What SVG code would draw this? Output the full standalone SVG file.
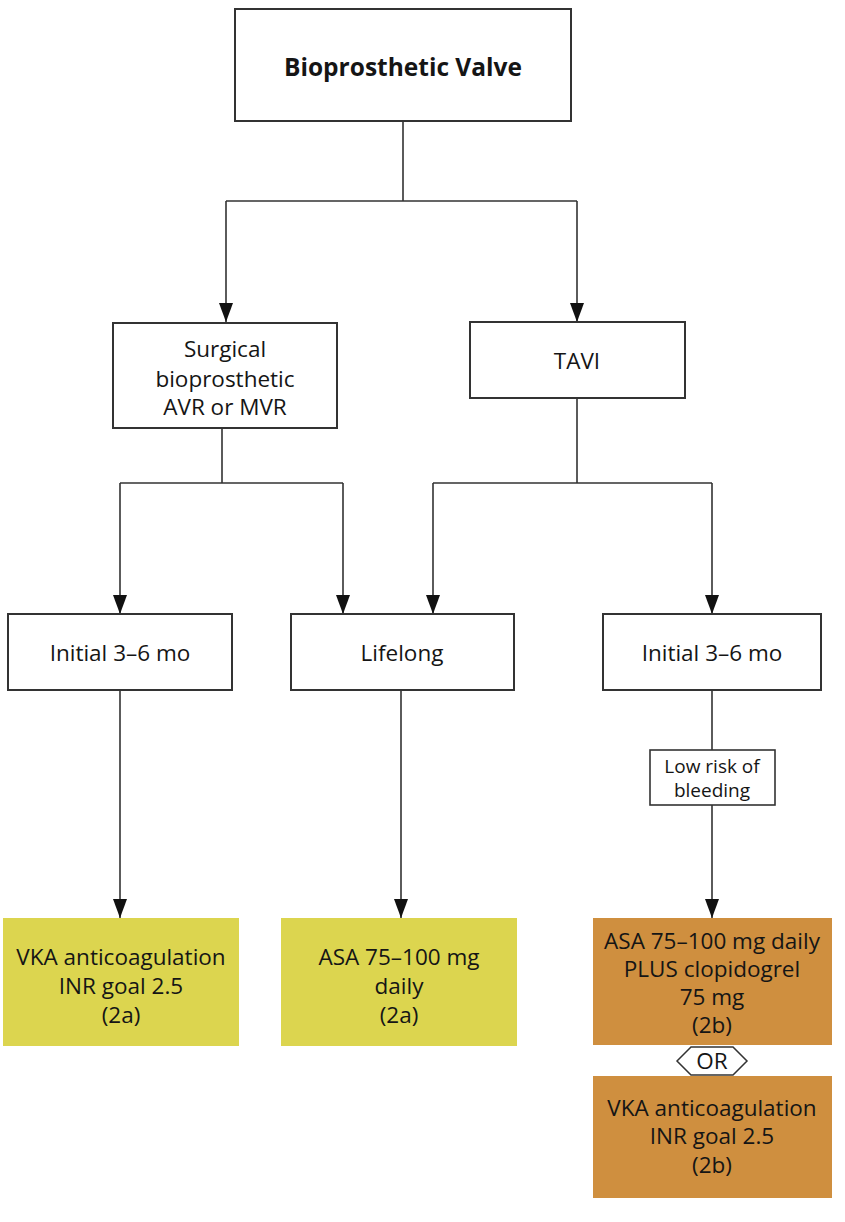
<svg xmlns="http://www.w3.org/2000/svg" width="845" height="1222" viewBox="0 0 845 1222">
<style>
.box{fill:#fff;stroke:#333;stroke-width:2}
.yel{fill:#dcd54f}
.org{fill:#cf8f3f}
.t{font-family:"Open Sans",Lato,sans-serif;font-size:22.5px;fill:#151515;text-anchor:middle}
.s{font-size:19px}
.b{font-weight:bold;font-size:24.5px}
.c{fill:none;stroke:#333;stroke-width:1.6}
</style>
<defs>
<marker id="a" markerWidth="19" markerHeight="14" refX="19" refY="7" orient="auto" markerUnits="userSpaceOnUse" viewBox="0 0 19 14">
<path d="M0,0 L19,7 L0,14 Z" fill="#111"/>
</marker>
</defs>
<g id="connectors">
<path class="c" d="M403,121 V201 M226,201 H577"/>
<path class="c" d="M226,201 V322" marker-end="url(#a)"/>
<path class="c" d="M577,201 V322" marker-end="url(#a)"/>
<path class="c" d="M222,428 V483 M120,483 H343"/>
<path class="c" d="M120,483 V614" marker-end="url(#a)"/>
<path class="c" d="M343,483 V614" marker-end="url(#a)"/>
<path class="c" d="M577,398 V483 M433,483 H712"/>
<path class="c" d="M433,483 V614" marker-end="url(#a)"/>
<path class="c" d="M712,483 V614" marker-end="url(#a)"/>
<path class="c" d="M120,690 V918" marker-end="url(#a)"/>
<path class="c" d="M401,690 V918" marker-end="url(#a)"/>
<path class="c" d="M712,690 V750"/>
<path class="c" d="M712,805 V918" marker-end="url(#a)"/>
</g>
<g id="n-root">
<rect class="box" x="235" y="9" width="336" height="112"/>
<text class="t b" x="403" y="76">Bioprosthetic Valve</text>
</g>
<g id="n-surgical">
<rect class="box" x="113" y="323" width="224" height="105"/>
<text class="t" x="225" y="357">Surgical</text>
<text class="t" x="225" y="387">bioprosthetic</text>
<text class="t" x="225" y="415">AVR or MVR</text>
</g>
<g id="n-tavi">
<rect class="box" x="470" y="322" width="215" height="76"/>
<text class="t" x="577" y="369">TAVI</text>
</g>
<g id="n-init1">
<rect class="box" x="8" y="614" width="224" height="76"/>
<text class="t" x="120" y="661">Initial 3–6 mo</text>
</g>
<g id="n-life">
<rect class="box" x="291" y="614" width="223" height="76"/>
<text class="t" x="402" y="661">Lifelong</text>
</g>
<g id="n-init2">
<rect class="box" x="603" y="614" width="218" height="76"/>
<text class="t" x="712" y="661">Initial 3–6 mo</text>
</g>
<g id="n-lowrisk">
<rect class="box" x="650" y="750" width="125" height="55" style="stroke-width:1.6"/>
<text class="t s" x="712" y="773">Low risk of</text>
<text class="t s" x="712" y="797">bleeding</text>
</g>
<g id="n-vka1">
<rect class="yel" x="3" y="918" width="236" height="128"/>
<text class="t" x="121" y="965">VKA anticoagulation</text>
<text class="t" x="121" y="994">INR goal 2.5</text>
<text class="t" x="121" y="1023">(2a)</text>
</g>
<g id="n-asa1">
<rect class="yel" x="281" y="918" width="236" height="128"/>
<text class="t" x="399" y="965">ASA 75–100 mg</text>
<text class="t" x="399" y="994">daily</text>
<text class="t" x="399" y="1023">(2a)</text>
</g>
<g id="n-asa2">
<rect class="org" x="593" y="918" width="239" height="127"/>
<text class="t" x="712" y="949">ASA 75–100 mg daily</text>
<text class="t" x="712" y="977">PLUS clopidogrel</text>
<text class="t" x="712" y="1005">75 mg</text>
<text class="t" x="712" y="1033">(2b)</text>
</g>
<g id="n-or">
<polygon points="677,1061 691,1047 733,1047 747,1061 733,1075 691,1075" fill="#fff" stroke="#333" stroke-width="1.5"/>
<text class="t" x="712" y="1069">OR</text>
</g>
<g id="n-vka2">
<rect class="org" x="593" y="1076" width="239" height="122"/>
<text class="t" x="712" y="1116">VKA anticoagulation</text>
<text class="t" x="712" y="1144">INR goal 2.5</text>
<text class="t" x="712" y="1173">(2b)</text>
</g>
</svg>
